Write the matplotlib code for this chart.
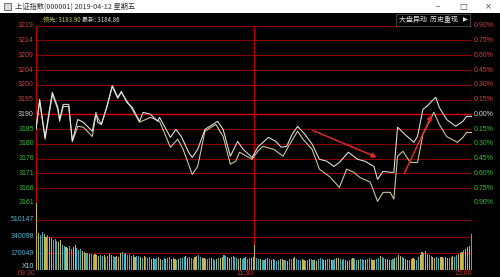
import numpy as np
import matplotlib.pyplot as plt
from matplotlib.patches import Rectangle

plt.rcParams['font.family'] = ['Noto Sans CJK SC', 'DejaVu Sans']

# 昨收
prev_close = 3189.96

# 分时线: 分钟 (0-240), 点位
white_min = [0, 2, 5, 7, 9, 12, 13, 15, 18, 20, 23, 26, 31, 33, 34, 36, 39, 42, 45, 47,
             50, 53, 57, 59, 63, 67, 68, 74, 77, 80, 84, 86, 89, 93, 100, 103, 107, 111, 114, 119,
             122, 128, 132, 135, 138, 141, 144, 148, 152, 156, 160, 164, 167, 172, 177, 181, 186, 188, 191, 195,
             197, 199, 203, 208, 210, 213, 215, 220, 222, 226, 231, 235, 237, 240]
white_px = [3185.1, 3194.8, 3182.5, 3190.0, 3197.1, 3192.2, 3188.3, 3193.2, 3193.2, 3181.2,
            3188.3, 3187.4, 3184.5, 3190.6, 3187.4, 3186.7, 3192.5, 3199.3, 3195.5, 3197.4,
            3193.8, 3192.2, 3187.7, 3190.6, 3190.0, 3187.7, 3189.0, 3182.5, 3185.1, 3182.8,
            3177.7, 3176.0, 3178.6, 3185.1, 3187.7, 3185.1, 3176.4, 3181.2, 3178.6, 3176.0,
            3179.3, 3182.5, 3181.2, 3179.3, 3179.6, 3183.5, 3186.1, 3183.5, 3180.3, 3175.4,
            3174.8, 3173.1, 3174.4, 3177.7, 3175.4, 3174.8, 3173.1, 3168.9, 3171.5, 3171.2,
            3171.2, 3185.8, 3183.5, 3180.9, 3182.8, 3191.6, 3192.5, 3195.5, 3192.2, 3188.3,
            3186.1, 3187.7, 3189.3, 3189.3]

yellow_min = [0, 2, 5, 7, 9, 12, 13, 15, 18, 20, 23, 26, 31, 33, 36, 39, 42, 45, 47, 53,
              57, 63, 68, 74, 78, 81, 86, 89, 93, 99, 103, 107, 110, 112, 119, 122, 125, 131, 136, 139,
              144, 147, 152, 156, 162, 167, 171, 175, 178, 184, 188, 191, 195, 197, 199, 202, 206, 210, 213, 219,
              222, 226, 232, 235, 237, 240]
yellow_px = [3185.1, 3194.2, 3181.9, 3189.0, 3196.4, 3191.6, 3187.7, 3192.5, 3192.5, 3181.2,
             3186.1, 3185.8, 3182.8, 3190.0, 3186.7, 3192.2, 3199.0, 3195.1, 3197.1, 3191.6,
             3187.4, 3189.0, 3187.7, 3179.3, 3181.9, 3178.6, 3170.5, 3173.1, 3184.5, 3186.7,
             3182.8, 3173.8, 3174.8, 3177.7, 3175.4, 3178.0, 3179.6, 3178.6, 3176.4, 3179.6,
             3184.5, 3181.9, 3178.6, 3172.2, 3169.6, 3166.3, 3172.2, 3171.2, 3169.6, 3168.0,
             3161.8, 3164.7, 3164.7, 3162.5, 3176.4, 3178.0, 3174.4, 3174.4, 3183.5, 3190.6,
             3186.7, 3182.8, 3180.9, 3182.5, 3184.1, 3184.1]

# 成交量 (千), 每分钟一根
vol_k = [680,
         380, 360, 390, 370, 340, 360, 330,
         320, 300, 310, 290, 280, 300,
         250, 240, 230, 220, 240, 210,
         230, 250, 220, 200, 210, 190,
         180, 170, 175, 160, 165, 150, 160, 155, 145, 150,
         140, 150, 135, 145, 160, 150, 140, 130, 140, 135,
         170, 180, 160, 175, 150, 165, 140, 150, 130, 140, 145, 135, 125, 140, 130,
         120, 130, 115, 125, 110, 120, 135, 115, 105, 120, 110, 125, 130, 115, 120, 110, 105, 115, 120, 125,
         130, 140, 125, 135, 120, 115, 130, 140, 150, 135, 125, 120, 110, 115, 125, 120, 110, 105, 115, 120,
         125, 135, 150, 140, 130, 120, 135, 145, 130, 120, 115, 125, 110, 120, 130, 115, 120, 125, 135,
         250,
         120, 110, 115, 105, 100, 110, 120, 115, 105, 110, 100, 95, 105, 115, 110, 100, 105, 95, 110, 115,
         120, 130, 115, 105, 100, 110, 105, 95, 100, 110, 115, 105, 100, 95, 110, 120, 115, 105, 100, 110,
         115, 105, 100, 110, 120, 125, 115, 105, 110, 100, 95, 105, 115, 120, 110, 100, 105, 115, 110, 100,
         105, 110, 120, 115, 105, 100, 110, 125, 140, 130, 120, 115, 110, 100, 105, 115, 125, 135, 150, 140,
         130, 120, 110, 105, 100, 115, 120, 110, 105, 130, 150, 180, 175, 190, 160, 150, 140, 130, 120, 135,
         125, 130, 135, 125, 130, 120, 125, 130, 140, 135, 150, 160, 170, 185, 200, 210, 230, 240, 370]
vol_dir = ("uudduuduuddduudduudd" "uuddduuddudduuuddudd" "uudduuudduddduuddudu"
           "ddduudduuddudduuudud" "dduuddduudduuudduddu" "duudduudddduuddudduu"
           "udduddudduuddduuddud" "duuddduuddudduuddduu" "ddudduuddduudduddudd"
           "dudduuuddudduuuddudu" "uduuuduuudduuduudduu" "dduuduuddudduuuduuud")

price_labels = ['3219', '3214', '3209', '3204', '3200', '3195', '3190',
                '3185', '3180', '3176', '3171', '3166', '3161']
pct_labels = ['0.90%', '0.75%', '0.60%', '0.45%', '0.30%', '0.15%', '0.00%',
              '0.15%', '0.30%', '0.45%', '0.60%', '0.75%', '0.90%']
vol_ticks = [170049, 340098, 510147]
vol_labels = ['170049', '340098', '510147']
time_pos = [0, 120, 240]
time_labels = ['09:30', '11:30', '15:00']

# 箭头 (分钟, 点位)
arrow1 = ((151, 3185.1), (189, 3175.7))
arrow2 = ((202, 3169.9), (218.5, 3190.6))

W, H = 500, 277


def fx(x):
    return x / W


def fy(y):
    return 1 - y / H


fig = plt.figure(figsize=(W / 100, H / 100), dpi=100, facecolor='black')

# 标题栏
fig.patches.append(Rectangle((0, fy(13)), 1, 13 / H, transform=fig.transFigure,
                             facecolor='white', edgecolor='none', zorder=0))
fig.patches.append(Rectangle((fx(4), fy(10)), 7 / W, 7 / H, transform=fig.transFigure,
                             facecolor='#d8d8d8', edgecolor='#606060', lw=0.6))
fig.text(fx(15), fy(6.5), '上证指数(000001) 2019-04-12 星期五', fontsize=5.2,
         color='#303030', va='center', ha='left')
for xx, s in [(438, '–'), (463, '□'), (488, '×')]:
    fig.text(fx(xx), fy(6.5), s, fontsize=6, color='#505050', va='center', ha='center',
             family='DejaVu Sans')

# 顶部信息
fig.text(fx(43), fy(19.5), '领先: 3183.90', fontsize=4.4, color='#c8c860', va='center',
         ha='left')
fig.text(fx(82), fy(19.5), '最新: 3184.86', fontsize=4.4, color='#d8d8d8', va='center',
         ha='left')
fig.patches.append(Rectangle((fx(396), fy(26)), 74 / W, 12 / H, transform=fig.transFigure,
                             facecolor='black', edgecolor='#505050', lw=0.6))
fig.text(fx(399), fy(19.5), '大盘异动  历史重现', fontsize=5, color='#e0e0e0', va='center', ha='left')
fig.text(fx(465), fy(19.5), '▶', fontsize=4.5, color='#e0e0e0', va='center', ha='center',
         family='DejaVu Sans')

grid_c = '#900000'
axis_c = '#c00000'

# 价格区
ax = fig.add_axes([fx(36), fy(203), 436 / W, (203 - 25.7) / H])
ax.set_facecolor('none')
lo, hi = prev_close * (1 - 0.009), prev_close * (1 + 0.009)
ax.set_xlim(0, 240)
ax.set_ylim(lo, hi)
ax.set_xticks([])
ax.set_yticks([])
for sp in ax.spines.values():
    sp.set_visible(False)

for i, (pl, pc) in enumerate(zip(price_labels, pct_labels)):
    k = 6 - i
    lvl = prev_close * (1 + k * 0.0015)
    if k == 0:
        ax.axhline(lvl, color='#e00000', lw=1.0, zorder=1)
        c = '#d8d8d8'
    else:
        ax.axhline(lvl, color=grid_c, lw=0.7, zorder=1)
        c = '#d04040' if k > 0 else '#38c038'
    ax.text(-0.005, lvl, pl, transform=ax.get_yaxis_transform(), ha='right', va='center',
            fontsize=5, color=c, family='Liberation Sans')
    ax.text(1.004, lvl, pc, transform=ax.get_yaxis_transform(), ha='left', va='center',
            fontsize=5, color=c, family='Liberation Sans')

ax.plot(yellow_min, yellow_px, color='#d8d0a0', lw=0.75, zorder=3)
ax.plot(white_min, white_px, color='#e8e8e8', lw=0.75, zorder=4)

for a in (arrow1, arrow2):
    ax.annotate('', xy=a[1], xytext=a[0],
                arrowprops=dict(arrowstyle='-|>', color='#e02828', lw=1.1, mutation_scale=7),
                zorder=5)

# 成交量区
vx = fig.add_axes([fx(36), fy(270), 436 / W, (270 - 203) / H])
vx.set_facecolor('none')
vx.set_xlim(0, 240)
vx.set_ylim(0, vol_ticks[0] * 4)
vx.set_xticks([])
vx.set_yticks([])
for sp in vx.spines.values():
    sp.set_visible(False)
for t, lab in zip(vol_ticks, vol_labels):
    vx.axhline(t, color=grid_c, lw=0.7, zorder=1)
    vx.text(-0.005, t, lab, transform=vx.get_yaxis_transform(), ha='right', va='center',
            fontsize=5, color='#50b4d0', family='Liberation Sans')
vx.text(-0.005, 0, 'X10', transform=vx.get_yaxis_transform(), ha='right', va='bottom',
        fontsize=5, color='#a0d8e8', family='Liberation Sans')
vx.axhline(0, color=axis_c, lw=0.8, zorder=1)

vol = np.array(vol_k) * 1000
colors = ['#c8b450' if d == 'u' else '#3cb0c0' for d in vol_dir]
vx.bar(np.arange(len(vol)) + 0.5, vol, width=0.6, color=colors, lw=0, zorder=2)

for pos, lab in zip(time_pos, time_labels):
    vx.annotate(lab, xy=(pos, 0), xycoords=('data', 'figure fraction'),
                xytext=(0, 3.5), textcoords='offset pixels', ha='right', va='center',
                fontsize=5, color='#c83030', family='Liberation Sans')

# 竖线
for a in (ax, vx):
    a.axvline(0, color=axis_c, lw=0.9, zorder=1)
    a.axvline(240, color=axis_c, lw=0.9, zorder=1)
    a.axvline(120, color=axis_c, lw=0.9, zorder=1)

fig.savefig('out.png', dpi=100, facecolor='black')
